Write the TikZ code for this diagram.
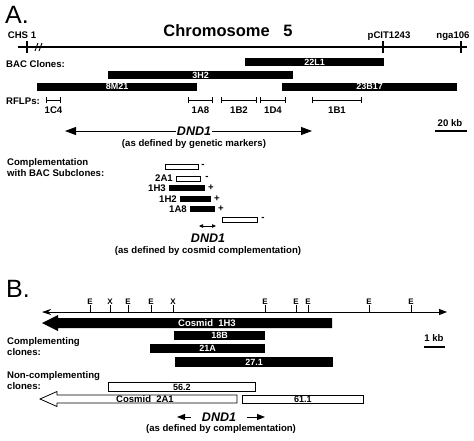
\documentclass[tikz,border=0pt]{standalone}
\usepackage{fontspec}
\setmainfont{Liberation Sans}
\usetikzlibrary{arrows.meta}

\begin{document}
\begin{tikzpicture}[x=1pt,y=-1pt,
    lbl/.style={font=\fontsize{9.6}{11.5}\selectfont\bfseries, inner sep=0pt},
    panel/.style={font=\fontsize{25}{26}\selectfont, inner sep=0pt},
    bar/.style={fill=black, text=white, inner sep=0pt, anchor=north west,
      font=\fontsize{9}{10}\selectfont\bfseries},
    openbar/.style={draw=black, fill=white, line width=0.8pt, inner sep=0pt,
      anchor=north west, font=\fontsize{9}{10}\selectfont\bfseries},
    gene/.style={font=\fontsize{12.5}{13}\selectfont\bfseries\itshape, inner sep=1pt},
    rflp/.style={line width=0.8pt, {Bar[width=6pt]}-{Bar[width=6pt]}},
    bigtip/.style={line width=0.9pt, -{Triangle[length=11pt,width=8pt]}},
    smalltip/.style={line width=0.9pt, -{Triangle[length=8pt,width=6pt]}}]
    \useasboundingbox (0,0) rectangle (474,440);

    % panel A
    \node[panel] (pa) at (17,15) {A.};
    \node[font=\fontsize{16.5}{17}\selectfont\bfseries] (title) at (228,31) {Chromosome\ \ \ 5};
    \draw[line width=1.4pt] (18,47) -- (467,47);
    \draw[line width=1.2pt] (27,41) -- (27,53);
    \draw[line width=0.9pt] (35,51) -- (38,43) (39,51) -- (42,43);
    \draw[line width=1.2pt] (383,41) -- (383,53);
    \draw[line width=1.2pt] (461,41) -- (461,53);
    \node[lbl] (chs) at (22,35) {CHS 1};
    \node[lbl] (pcit) at (389,36) {pCIT1243};
    \node[lbl] (nga) at (453,36) {nga106};

    \node[lbl, anchor=west] (bac) at (6,64) {BAC Clones:};
    \node[bar, minimum width=139pt, minimum height=8pt] (c22l1) at (245,58) {22L1};
    \node[bar, minimum width=185pt, minimum height=8pt] (c3h2) at (108,71) {3H2};
    \node[bar, minimum width=160pt, minimum height=8pt] (c8m21) at (37,82.5) {8M21};
    \node[bar, minimum width=175pt, minimum height=8pt] (c23b17) at (282,82.5) {23B17};

    \node[lbl, anchor=west] (rflps) at (6,101) {RFLPs:};
    \foreach \a/\b/\t in {46/61/1C4, 188/213/1A8, 221/257/1B2, 260/286/1D4, 312/362/1B1} {
        \draw[rflp] (\a,100) -- (\b,100);
        \node[lbl] at ({(\a+\b)/2},110.5) {\t};
    }

    \node[gene] (dnda) at (194,131) {DND1};
    \coordinate (la) at (65,131);
    \coordinate (ra) at (312,131);
    \draw[bigtip] (dnda.west) -- (la);
    \draw[bigtip] (dnda.east) -- (ra);
    \node[lbl] (defa) at (194,144) {(as defined by genetic markers)};

    \node[lbl] (kb20) at (450,123) {20 kb};
    \draw[line width=1.6pt] (435,131) -- (467,131);

    \node[lbl, anchor=north west, align=left] (compl) at (7,158) {Complementation\\with BAC Subclones:};
    \node[openbar, minimum width=33pt, minimum height=4.5pt] (s1) at (165,164) {};
    \node[lbl] at (203,166) {-};
    \node[openbar, minimum width=24pt, minimum height=4.5pt] (s2a1) at (176,176) {};
    \node[lbl, anchor=east] at (173,178) {2A1};
    \node[lbl] at (207,178) {-};
    \node[bar, minimum width=36pt, minimum height=5.5pt] (s1h3) at (169,185) {};
    \node[lbl, anchor=east] at (166,188) {1H3};
    \node[lbl] at (211,188) {+};
    \node[bar, minimum width=31pt, minimum height=5.5pt] (s1h2) at (180,196) {};
    \node[lbl, anchor=east] at (177,199) {1H2};
    \node[lbl] at (217,199) {+};
    \node[bar, minimum width=25pt, minimum height=5.5pt] (s1a8) at (190,206) {};
    \node[lbl, anchor=east] at (187,209) {1A8};
    \node[lbl] at (221,209) {+};
    \node[openbar, minimum width=35pt, minimum height=4.5pt] (s6) at (222,217) {};
    \node[lbl] at (263,219) {-};
    \coordinate (lc) at (199,226);
    \coordinate (rc) at (216,226);
    \draw[line width=0.7pt, {Triangle[length=4pt,width=3.5pt]}-{Triangle[length=4pt,width=3.5pt]}] (lc) -- (rc);
    \node[gene] (dndc) at (208,238) {DND1};
    \node[lbl] (defc) at (208,251) {(as defined by cosmid complementation)};

    % panel B
    \node[panel] (pb) at (18,289) {B.};
    \coordinate (lm) at (42,312);
    \coordinate (rm) at (447,312);
    \draw[line width=0.9pt, {Stealth[length=9pt,width=6pt]}-{Triangle[length=8pt,width=6pt]}] (lm) -- (rm);
    \foreach \x/\t in {90/E, 110/X, 128/E, 151/E, 173/X, 265/E, 296/E, 308/E, 369/E, 411/E} {
        \draw[line width=0.7pt] (\x,312) -- (\x,305) node[above=0.5pt, inner sep=0pt, font=\fontsize{8}{9}\selectfont\bfseries] {\t};
    }
    \fill (42,323) -- (58,315) -- (58,318) -- (332,318) -- (332,328) -- (58,328) -- (58,331) -- cycle;
    \node[text=white, font=\fontsize{9.5}{10}\selectfont\bfseries] (c1h3) at (207,323) {Cosmid\ \ 1H3};
    \node[bar, minimum width=91pt, minimum height=9pt] (c18b) at (174,331) {18B};
    \node[bar, minimum width=115pt, minimum height=9pt] (c21a) at (150,344) {21A};
    \node[bar, minimum width=158pt, minimum height=10pt] (c271) at (175,357) {27.1};
    \node[lbl, anchor=north west, align=left] (compb) at (7,337) {Complementing\\clones:};
    \node[lbl] (kb1) at (434,338) {1 kb};
    \draw[line width=1.6pt] (424,347) -- (445,347);

    \node[lbl, anchor=north west, align=left] (noncomp) at (7,371) {Non-complementing\\clones:};
    \node[openbar, minimum width=147pt, minimum height=9pt] (c562) at (108,382) {56.2};
    \draw[line width=0.8pt] (40,399) -- (57,391.5) -- (57,395) -- (237,395) -- (237,403) -- (57,403) -- (57,406.5) -- cycle;
    \node[font=\fontsize{9.5}{10}\selectfont\bfseries] (c2a1) at (145,399) {Cosmid\ \ 2A1};
    \node[openbar, minimum width=121pt, minimum height=8pt] (c611) at (242,395) {61.1};
    \node[gene] (dndb) at (219,417) {DND1};
    \coordinate (lb) at (177,417);
    \coordinate (rb) at (265,417);
    \draw[smalltip] ([xshift=-10pt]dndb.west) -- (lb);
    \draw[smalltip] ([xshift=10pt]dndb.east) -- (rb);
    \node[lbl] (defb) at (221,429) {(as defined by complementation)};
\end{tikzpicture}
\end{document}
